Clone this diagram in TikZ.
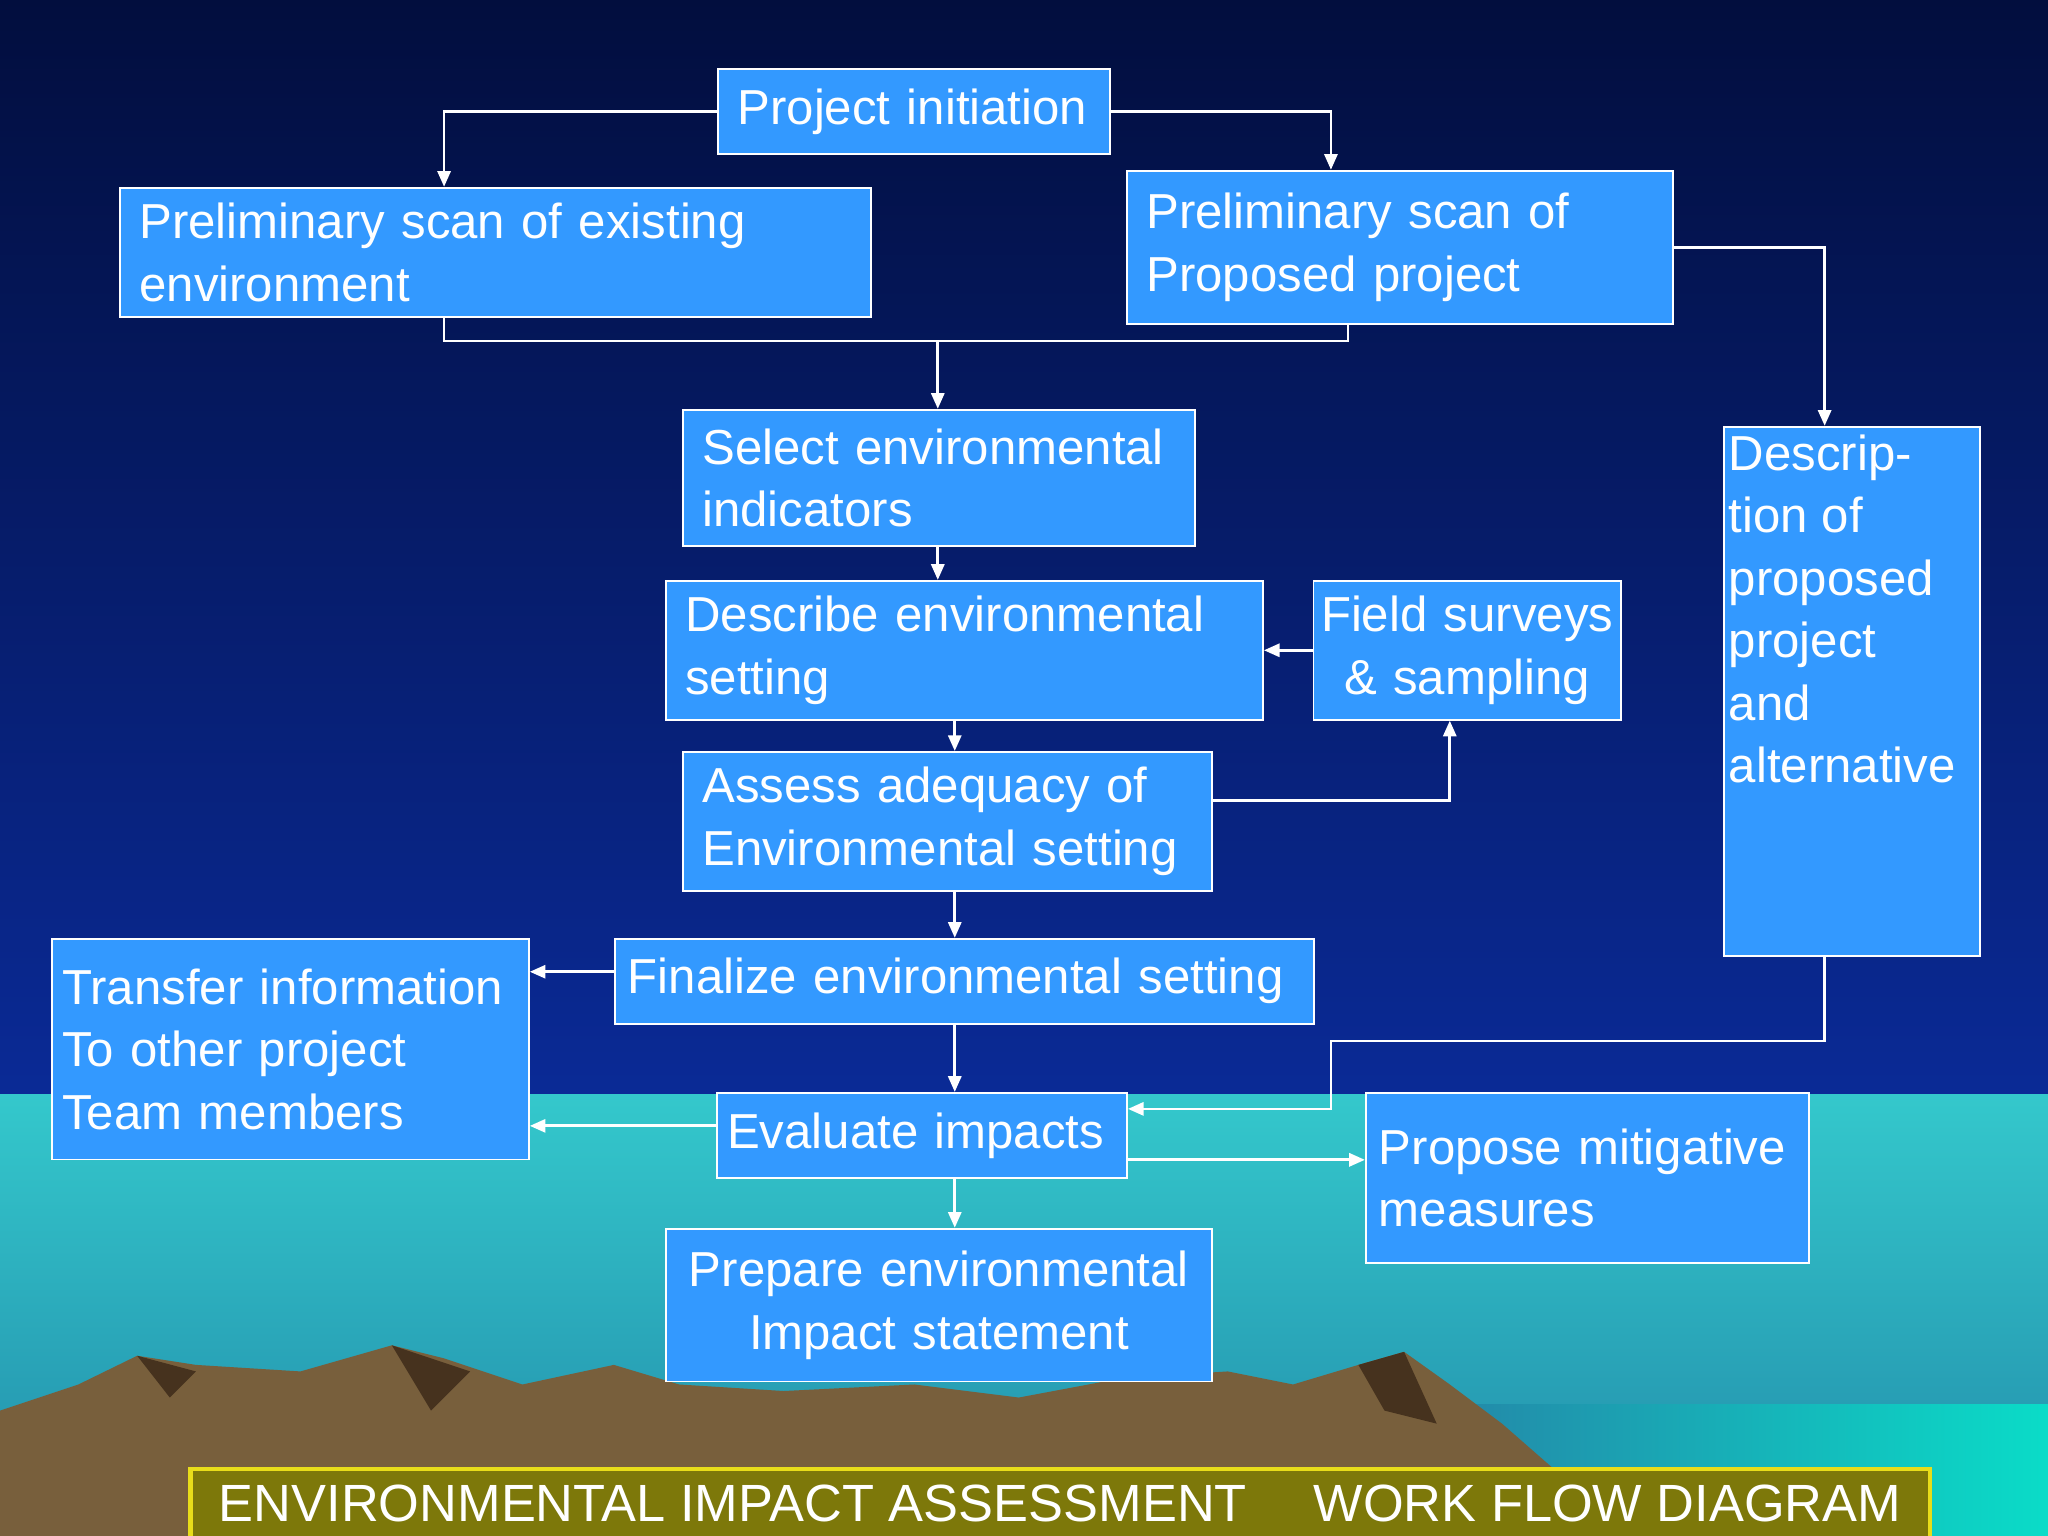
\documentclass[tikz,border=0pt]{standalone}
\usepackage{fontspec}
\setmainfont{Liberation Sans}
\usetikzlibrary{arrows.meta}
\definecolor{boxblue}{RGB}{51,153,255}
\definecolor{navytop}{RGB}{2,14,62}
\definecolor{navybot}{RGB}{10,42,150}
\definecolor{seatop}{RGB}{52,200,204}
\definecolor{seabot}{RGB}{34,140,170}
\definecolor{seacorner}{RGB}{10,220,200}
\definecolor{rock}{RGB}{120,95,60}
\definecolor{rockdark}{RGB}{70,50,30}
\definecolor{olive}{RGB}{125,120,10}
\tikzset{
  box/.style={draw=white, fill=boxblue, text=white, anchor=north west, inner xsep=0.15cm,
    align=left, font=\fontsize{10.7}{13.6}\selectfont},
  link/.style={draw=white, line width=0.6pt},
  arr/.style={link, -{Triangle[length=0.12cm,width=0.1cm]}}
}
\begin{document}
\begin{tikzpicture}[x=0.01cm, y=-0.01cm]
\useasboundingbox (0,0) rectangle (1568,1176);
% background
\shade[top color=navytop, bottom color=navybot] (0,0) rectangle (1568,838);
\shade[top color=seatop, bottom color=seabot] (0,838) rectangle (1568,1176);
\shade[left color=seabot, right color=seacorner] (1130,1075) rectangle (1568,1176);
\fill[rock] (0,1080) -- (60,1060) -- (105,1038) -- (150,1045) -- (230,1050) -- (300,1030)
  -- (340,1040) -- (400,1060) -- (470,1045) -- (520,1060) -- (600,1065) -- (700,1060)
  -- (780,1070) -- (860,1055) -- (940,1050) -- (990,1060) -- (1040,1045) -- (1075,1035)
  -- (1110,1060) -- (1150,1090) -- (1190,1125) -- (1190,1176) -- (0,1176) -- cycle;
\fill[rockdark] (105,1038) -- (150,1050) -- (130,1070) -- cycle;
\fill[rockdark] (300,1030) -- (360,1050) -- (330,1080) -- cycle;
\fill[rockdark] (1040,1045) -- (1075,1035) -- (1100,1090) -- (1060,1080) -- cycle;
% boxes
\node[box, text width=2.7cm, minimum height=0.65cm] (init) at (549,52) {Project initiation};
\node[box, text width=5.45cm, minimum height=0.92cm] (scanenv) at (91,143) {Preliminary scan of existing\\environment};
\node[box, text width=3.88cm, minimum height=1.17cm] (scanprj) at (862,130) {Preliminary scan of\\Proposed project};
\node[box, text width=3.62cm, minimum height=1.04cm] (select) at (522,313) {Select environmental\\indicators};
\node[box, text width=4.27cm, minimum height=1.04cm] (describe) at (509,444) {Describe environmental\\setting};
\node[box, text width=2.27cm, minimum height=1.04cm, inner xsep=0.04cm, align=center] (field) at (1005,444) {Field surveys\\\& sampling};
\node[box, text width=3.75cm, minimum height=0.91cm] (assess) at (522,575) {Assess adequacy of\\Environmental setting};
\node[box, text width=5.15cm, minimum height=0.65cm, inner xsep=0.1cm] (final) at (470,718) {Finalize environmental setting};
\node[box, text width=3.49cm, minimum height=1.69cm, inner xsep=0.08cm] (transfer) at (39,718) {Transfer information\\To other project\\Team members};
\node[box, text width=2.98cm, minimum height=0.65cm, inner xsep=0.08cm] (evaluate) at (548,836) {Evaluate impacts};
\node[box, text width=3.19cm, minimum height=1.3cm, inner xsep=0.1cm] (mitig) at (1045,836) {Propose mitigative\\measures};
\node[box, text width=3.88cm, minimum height=1.17cm, align=center] (prepare) at (509,940) {Prepare environmental\\Impact statement};
\node[box, minimum width=1.96cm, minimum height=4.05cm] (descrip) at (1319,326) {};
\node[anchor=north west, text=white, align=left, inner sep=0, font=\fontsize{10.7}{13.6}\selectfont] (descriptext) at (1323,332) {Descrip-\\tion of\\proposed\\project\\and\\alternative};
% banner
\node[draw=yellow!80!olive, line width=1pt, fill=olive, text=white, minimum width=13.31cm, minimum height=0.53cm,
  anchor=north west, font=\fontsize{11.4}{13}\selectfont] (banner) at (144,1123) {ENVIRONMENTAL IMPACT ASSESSMENT\quad\ WORK FLOW DIAGRAM};
% connectors
\coordinate (merge) at (718,261);
\draw[arr] (init.west) -| (scanenv.north -| 340,0);
\draw[arr] (init.east) -| (scanprj.north -| 1019,0);
\draw[link] (scanenv.south -| 340,0) |- (1032,261) -- (scanprj.south -| 1032,0);
\draw[arr] (merge) -- (select.north -| merge);
\draw[arr] (scanprj.east) -| (descrip.north -| 1397,0);
\draw[arr] (select.south -| 718,0) -- (describe.north -| 718,0);
\draw[arr] (field.west) -- (describe.east);
\draw[arr] (describe.south -| 731,0) -- (assess.north -| 731,0);
\draw[arr] (assess.east |- 0,613) -| (field.south -| 1110,0);
\draw[arr] (assess.south -| 731,0) -- (final.north -| 731,0);
\draw[arr] (final.west |- 0,744) -- (transfer.east |- 0,744);
\draw[arr] (final.south -| 731,0) -- (evaluate.north -| 731,0);
\draw[arr] (descrip.south -| 1397,0) |- (1019,797) |- (evaluate.east |- 0,849);
\draw[arr] (evaluate.west |- 0,862) -- (transfer.east |- 0,862);
\draw[arr] (evaluate.east |- 0,888) -- (mitig.west |- 0,888);
\draw[arr] (evaluate.south -| 731,0) -- (prepare.north -| 731,0);
\end{tikzpicture}
\end{document}
